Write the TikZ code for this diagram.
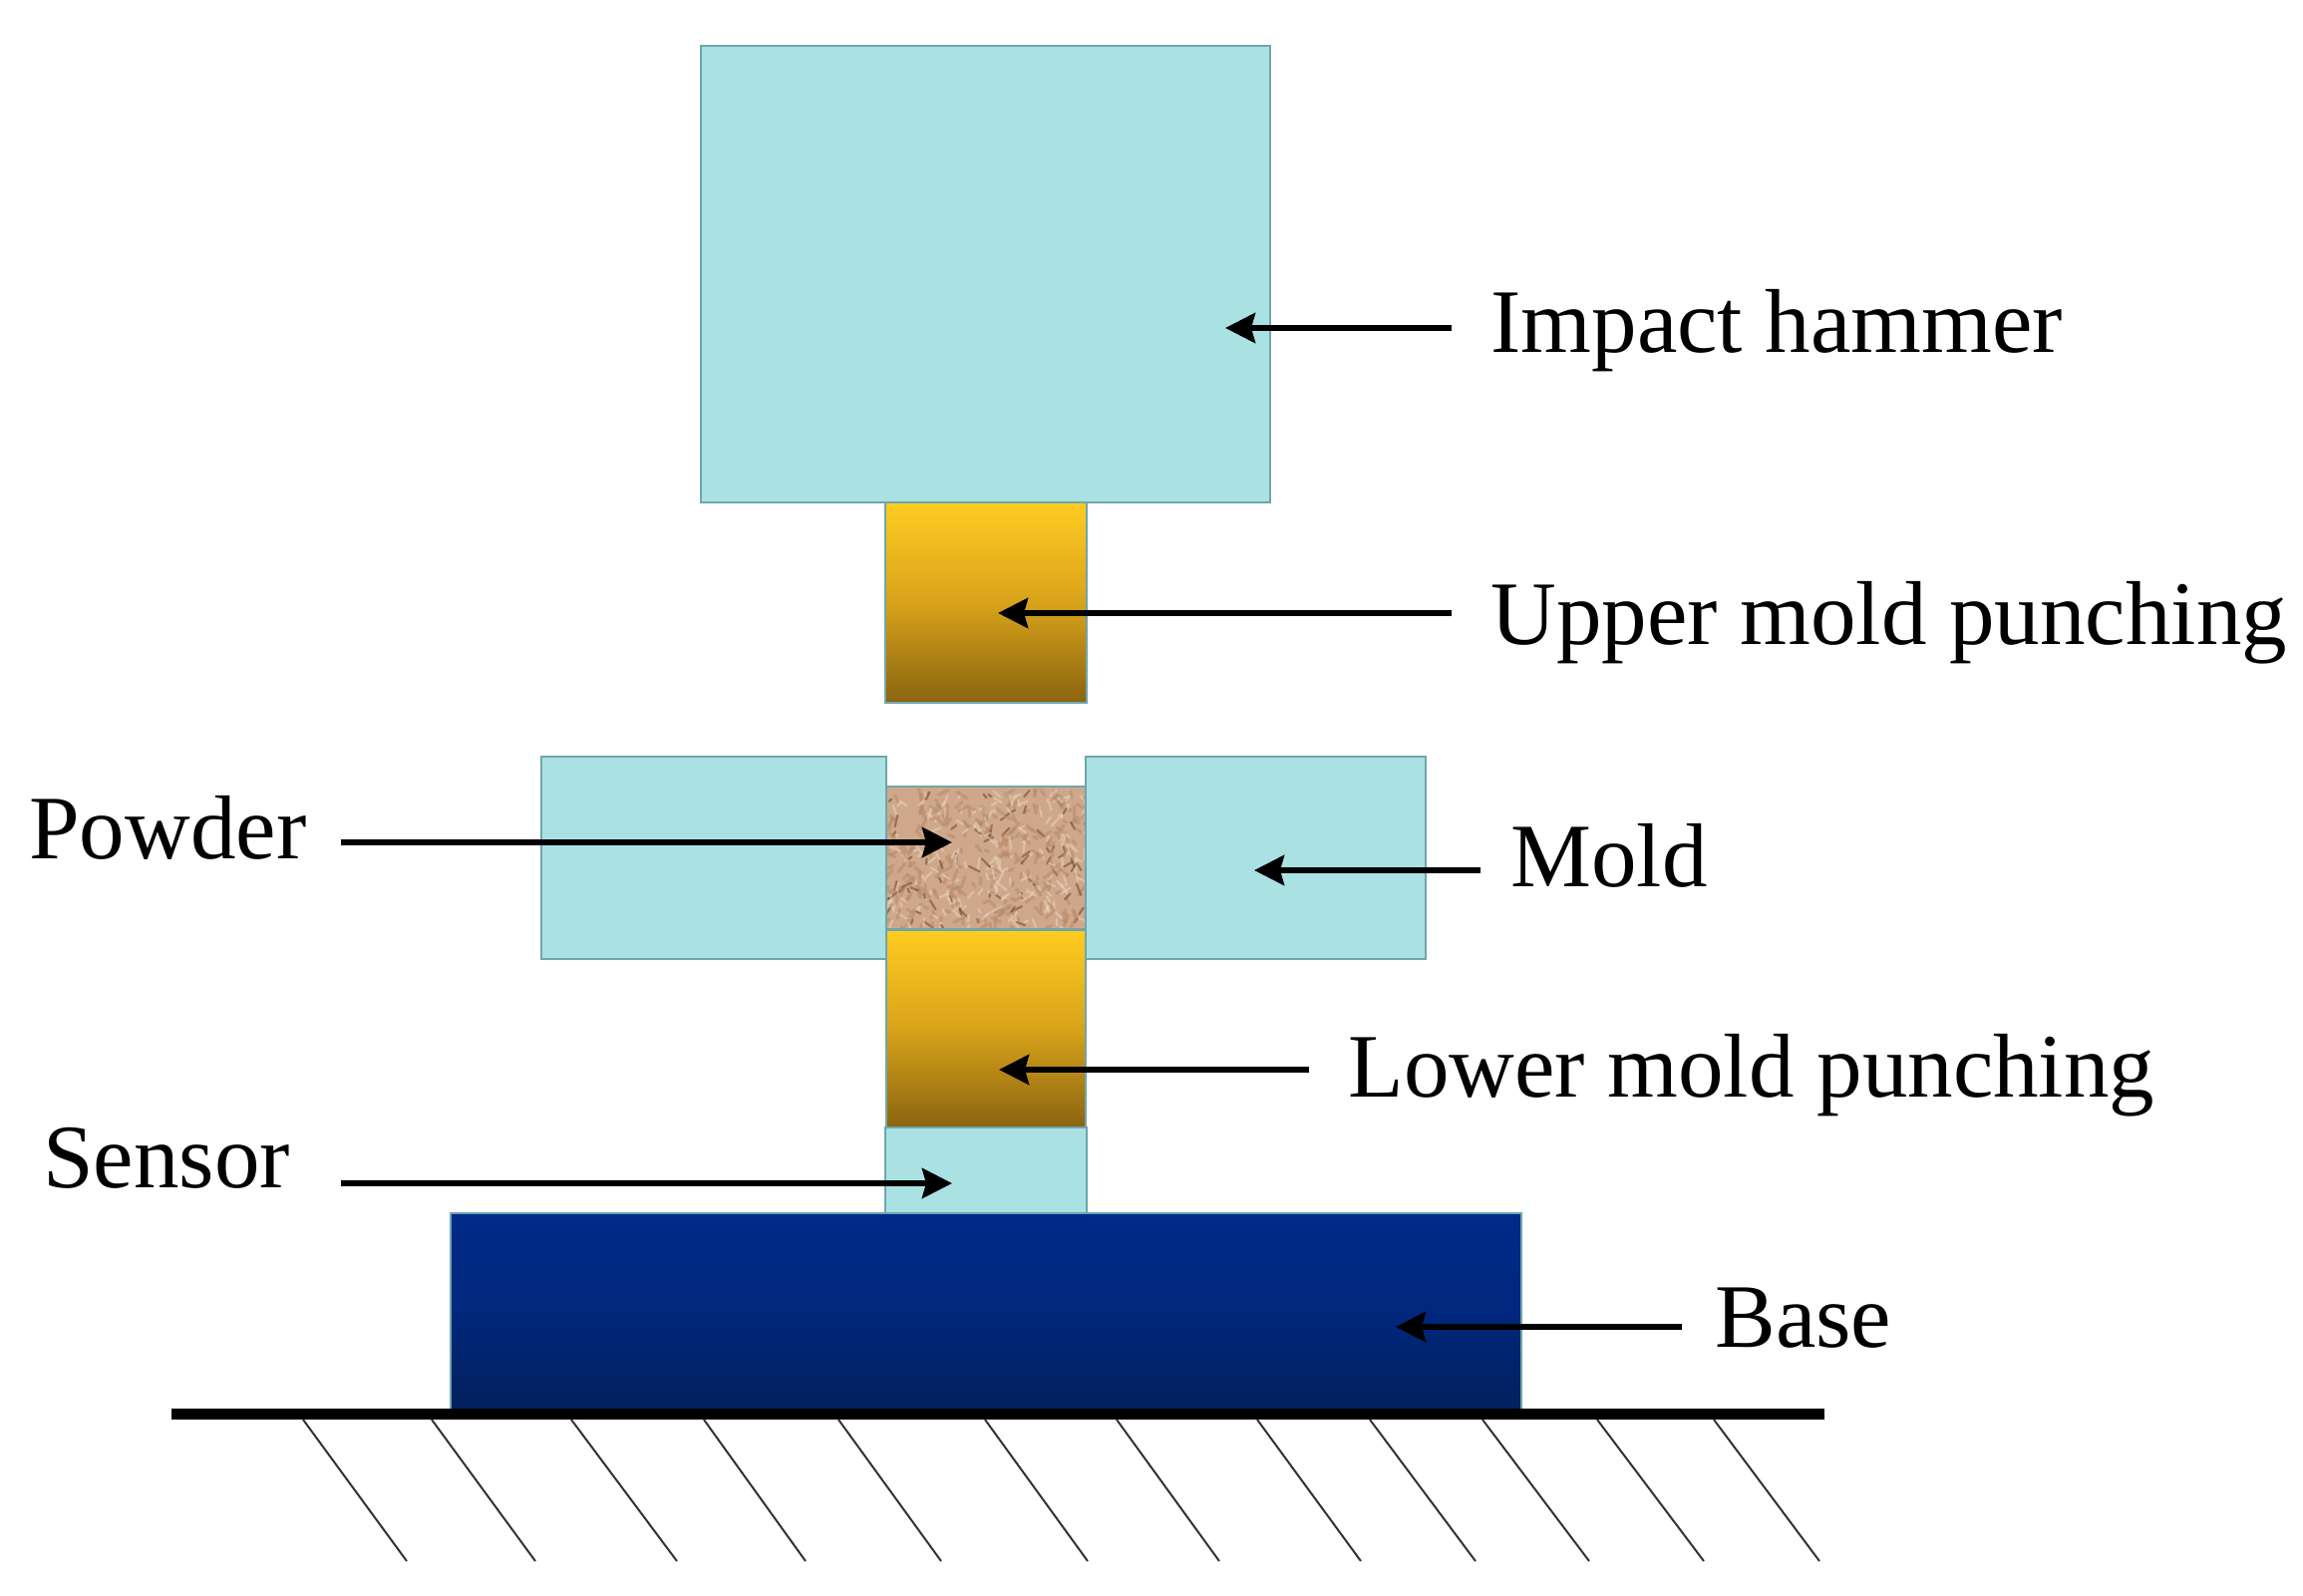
\documentclass[tikz,border=0pt]{standalone}
\usepackage{fontspec}
\setmainfont{Liberation Serif}
\usetikzlibrary{arrows.meta}
\definecolor{aqua}{HTML}{AAE2E4}
\definecolor{aquaedge}{HTML}{6FA6AC}
\definecolor{goldtop}{HTML}{FFCC22}
\definecolor{goldmid}{HTML}{D8A31A}
\definecolor{goldbot}{HTML}{8A6410}
\definecolor{navytop}{HTML}{002A88}
\definecolor{navybot}{HTML}{02205C}
\definecolor{powderbase}{HTML}{CFA88C}
\definecolor{speckdark}{HTML}{6E4526}
\definecolor{specklight}{HTML}{EBD6C2}
\definecolor{speckmid}{HTML}{B78A68}
\tikzset{
  blockshape/.style={inner sep=0pt,outer sep=0pt,draw=aquaedge,line width=1.2pt},
  aquablock/.style={blockshape,fill=aqua},
  goldblock/.style={blockshape,top color=goldtop,bottom color=goldbot,middle color=goldmid},
  navyblock/.style={blockshape,top color=navytop,bottom color=navybot,middle color=navytop!75!navybot},
  powderblock/.style={blockshape,fill=powderbase},
  pointer/.style={line width=2.9pt,-{Stealth[length=15pt,width=15pt,inset=2pt]}},
  caption/.style={anchor=base west,inner sep=0pt,font=\fontsize{45.5}{50}\selectfont,text=black},
  hatchline/.style={line width=1pt,draw=black!80},
}
\newcommand\blk[6]{%
  \pgfmathsetmacro\bw{(#5-#3)/2}%
  \pgfmathsetmacro\bh{(#6-#4)/2}%
  \node[#2,minimum width=\bw pt,minimum height=\bh pt] (#1) at ({(#3+#5)/2},{(#4+#6)/2}) {};%
}
\begin{document}
\begin{tikzpicture}[x=0.5pt,y=-0.5pt]
\useasboundingbox (0,0) rectangle (2310,1600);
\fill[white] (0,0) rectangle (2310,1600);

% blocks
\blk{hammer}{aquablock}{703}{46}{1274}{504}
\blk{upperpunch}{goldblock}{888}{504}{1090}{705}
\blk{powder}{powderblock}{889}{789}{1089}{932}
\begin{scope}
  \clip (889,791) rectangle (1089,930);
  \pgfmathsetseed{23}
  \foreach \k in {1,...,520}{
    \pgfmathsetmacro\px{889+200*rnd}
    \pgfmathsetmacro\py{791+139*rnd}
    \pgfmathsetmacro\ang{20+140*rnd}
    \pgfmathsetmacro\len{3+9*rnd}
    \pgfmathsetmacro\tone{rnd}
    \ifdim\tone pt<0.16pt
      \draw[line width=1.1pt,color=speckdark,opacity=.55,line cap=round] (\px,\py) -- ++(\ang:\len);
    \else
      \ifdim\tone pt<0.50pt
        \draw[line width=1.1pt,color=specklight,opacity=.5,line cap=round] (\px,\py) -- ++(\ang:\len);
      \else
        \draw[line width=1.6pt,color=speckmid,opacity=.55,line cap=round] (\px,\py) -- ++(\ang:\len);
      \fi
    \fi
  }
\end{scope}
\blk{moldleft}{aquablock}{543}{759}{889}{962}
\blk{moldright}{aquablock}{1089}{759}{1430}{962}
\blk{lowerpunch}{goldblock}{889}{933}{1089}{1131}
\blk{sensor}{aquablock}{888}{1131}{1090}{1217}
\blk{base}{navyblock}{452}{1217}{1526}{1414}

% ground
\blk{ground}{inner sep=0pt,outer sep=0pt,fill=black}{172}{1413}{1830}{1424}
\foreach \n/\a/\b in {a/304/408,b/433/537,c/573/679,d/706/808,e/841/944,f/988/1091,g/1120/1223,h/1261/1365,i/1374/1480,j/1487/1594,k/1602/1709,l/1719/1825}{
  \coordinate (top\n) at (\a,1424);
  \coordinate (bot\n) at (\b,1566);
  \draw[hatchline] (top\n) -- (bot\n);
}

% labels
\node[caption] (lhammer) at (1495,353) {Impact hammer};
\node[caption] (lupper) at (1495,646) {Upper mold punching};
\node[caption] (lmold) at (1515,889) {Mold};
\node[caption] (lpowder) at (29,861) {Powder};
\node[caption] (llower) at (1352,1100) {Lower mold punching};
\node[caption] (lsensor) at (43,1191) {Sensor};
\node[caption] (lbase) at (1720,1351) {Base};

% pointers
\coordinate (thammer) at (1456,329);
\coordinate (hhammer) at (1229,329);
\coordinate (tupper) at (1456,615);
\coordinate (hupper) at (1001,615);
\coordinate (tmold) at (1485,873);
\coordinate (hmold) at (1258,873);
\coordinate (tpowder) at (342,845);
\coordinate (hpowder) at (955,845);
\coordinate (tlower) at (1313,1073);
\coordinate (hlower) at (1002,1073);
\coordinate (tsensor) at (342,1187);
\coordinate (hsensor) at (955,1187);
\coordinate (tbase) at (1687,1331);
\coordinate (hbase) at (1400,1331);
\foreach \n in {hammer,upper,mold,powder,lower,sensor,base}{
  \draw[pointer] (t\n) -- (h\n);
}
\end{tikzpicture}
\end{document}
